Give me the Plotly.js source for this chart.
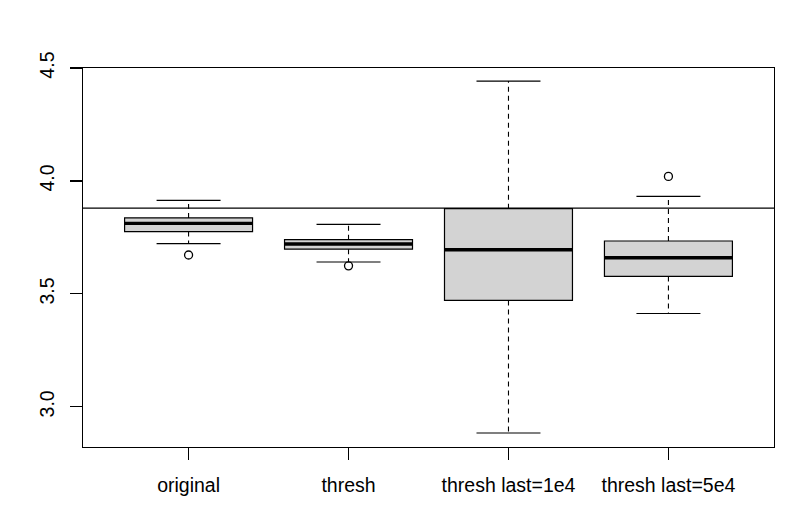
<!DOCTYPE html>
<html>
<head>
<meta charset="utf-8">
<script src="https://cdn.plot.ly/plotly-3.0.1.min.js"></script>
<style>body{margin:0;background:#fff}</style>
</head>
<body>
<div id="chart" style="width:808px;height:513px"></div>
<script>
// values
const groups = ['original', 'thresh', 'thresh last=1e4', 'thresh last=5e4'];
const lowerWhisker = [3.722, 3.641, 2.884, 3.413];
const q1 = [3.776, 3.698, 3.471, 3.577];
const median = [3.812, 3.721, 3.695, 3.660];
const q3 = [3.836, 3.740, 3.877, 3.734];
const upperWhisker = [3.914, 3.808, 4.442, 3.932];
const outlierGroup = [1, 2, 4];
const outlierValue = [3.672, 3.624, 4.020];
const refLine = 3.880;
const yTicks = [3.0, 3.5, 4.0, 4.5];

const pos = groups.map((g, i) => i + 1);
const boxHalf = 0.4, stapleHalf = 0.2;

let wx = [], wy = [], sx = [], sy = [], mx = [], my = [];
pos.forEach((p, i) => {
	wx.push(p, p, null, p, p, null);
	wy.push(q3[i], upperWhisker[i], null, q1[i], lowerWhisker[i], null);
	sx.push(p - stapleHalf, p + stapleHalf, null, p - stapleHalf, p + stapleHalf, null);
	sy.push(upperWhisker[i], upperWhisker[i], null, lowerWhisker[i], lowerWhisker[i], null);
	mx.push(p - boxHalf, p + boxHalf, null);
	my.push(median[i], median[i], null);
});

let traces = [
	{
		type: 'box', x: pos, q1: q1, median: median, q3: q3,
		lowerfence: q1, upperfence: q3, width: 0.8, whiskerwidth: 0,
		boxpoints: false, fillcolor: '#d3d3d3',
		line: {color: '#000', width: 1.2}, hoverinfo: 'skip'
	},
	{x: wx, y: wy, mode: 'lines', line: {color: '#000', width: 1.1, dash: '5px,4px'}},
	{x: sx, y: sy, mode: 'lines', line: {color: '#000', width: 1.2}},
	{x: mx, y: my, mode: 'lines', line: {color: '#000', width: 3.4}},
	{x: outlierGroup, y: outlierValue, mode: 'markers',
		marker: {symbol: 'circle-open', size: 8, color: '#000', line: {width: 1.3}}}
];

let font = {family: 'Liberation Sans, Arial, sans-serif', size: 19.5, color: '#000'};
let axis = {
	showgrid: false, zeroline: false, showline: true, mirror: true,
	linecolor: '#000', linewidth: 1.2, ticks: 'outside', ticklen: 12,
	tickwidth: 1.2, tickcolor: '#000', tickfont: font
};

let layout = {
	width: 808, height: 513,
	margin: {l: 83, r: 34, t: 68, b: 66},
	showlegend: false,
	paper_bgcolor: '#fff', plot_bgcolor: '#fff',
	xaxis: Object.assign({}, axis, {
		range: [0.34, 4.66], tickvals: pos, ticktext: groups, ticklabelstandoff: 8
	}),
	yaxis: Object.assign({}, axis, {
		range: [2.822, 4.5], tickvals: yTicks,
		ticktext: yTicks.map(v => v.toFixed(1)), tickangle: -90, ticklabelstandoff: 8
	}),
	shapes: [{
		type: 'line', xref: 'paper', x0: 0, x1: 1, yref: 'y', y0: refLine, y1: refLine,
		line: {color: '#000', width: 1.2}
	}]
};

Plotly.newPlot('chart', traces, layout, {staticPlot: true});
</script>
</body>
</html>
